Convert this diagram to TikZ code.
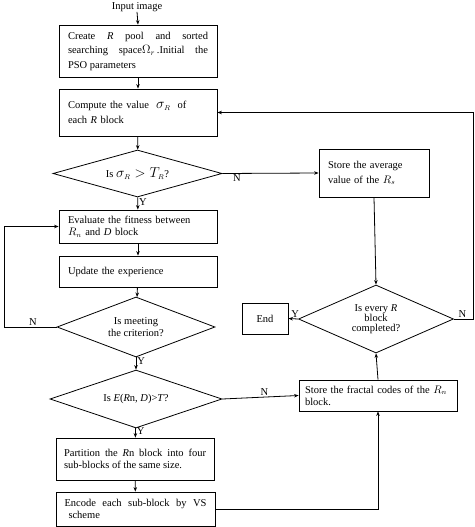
\documentclass[tikz,border=0pt]{standalone}
\usepackage{fontspec}
\setmainfont{Liberation Serif}
\usetikzlibrary{shapes.geometric,arrows.meta}
\begin{document}
\begin{tikzpicture}[x=1pt,y=-1pt,
  font=\fontsize{10.5}{12}\selectfont,
  box/.style={draw,line width=0.8pt,rectangle,inner sep=0pt},
  dia/.style={draw,line width=0.8pt,diamond,aspect=3,inner sep=0pt,align=center},
  conn/.style={line width=0.8pt,-{Stealth[length=4.5pt,width=3.5pt]}},
  lbl/.style={inner sep=1pt,font=\fontsize{10.5}{11}\selectfont}]
\useasboundingbox (0,0) rectangle (474,527);

\node[inner sep=0pt] (in) at (137,7) {Input image};
\node[box,minimum width=158pt,minimum height=52pt] (b1) at (138,51) {};
\node[text width=140pt,align=justify,font=\fontsize{10.5}{14.5}\selectfont] at (b1) {Create \textit{R} pool and sorted\linebreak searching space{\large$\Omega_r$}\,.Initial the\linebreak PSO parameters};
\node[box,minimum width=158pt,minimum height=47pt] (b2) at (138,112.5) {};
\node[text width=140pt,align=left] at (b2) {Compute the value \ {\Large$\sigma_{\scriptscriptstyle R}$} \ of\\[3pt] each \textit{R} block};
\node[dia,minimum width=169pt,minimum height=47pt] (d1) at (137.5,173.5) {Is {\Large$\sigma_{\scriptscriptstyle R} > T_{\scriptscriptstyle R}$}?};
\node[box,minimum width=158pt,minimum height=33pt] (b3) at (138,226.5) {};
\node[text width=140pt,align=left] at (b3) {Evaluate the fitness between\\ $R_n$ and \textit{D} block};
\node[box,minimum width=158pt,minimum height=31pt] (b4) at (138,271.5) {};
\node[text width=140pt,align=left] at (b4) {Update the experience};
\node[dia,minimum width=158pt,minimum height=60pt] (d2) at (136,327) {Is meeting\\the criterion?};
\node[dia,minimum width=172pt,minimum height=58pt] (d3) at (136,399) {Is \textit{E}(\textit{R}n, \textit{D})>\textit{T}?};
\node[box,minimum width=158pt,minimum height=42pt] (b5) at (135,459) {};
\node[text width=142pt,align=justify] at (b5) {Partition the \textit{R}n block into four\linebreak sub-blocks of the same size.};
\node[box,minimum width=159pt,minimum height=34pt] (b6) at (135.5,509) {};
\node[text width=142pt,align=justify] at (b6) {Encode each sub-block by VS\linebreak\hspace*{4pt}scheme};

\node[box,minimum width=110pt,minimum height=48pt] (sa) at (374,173) {};
\node[text width=92pt,align=left,font=\fontsize{10.5}{15}\selectfont] at (sa) {Store the average\\value of the $R_s$};
\node[dia,minimum width=155pt,minimum height=68pt,font=\fontsize{10.5}{9.5}\selectfont] (d4) at (376,319) {Is every \textit{R}\\block\\completed?};
\node[box,minimum width=46pt,minimum height=31pt] (end) at (265,318.5) {End};
\node[box,minimum width=158pt,minimum height=31pt] (fc) at (378,395.5) {};
\node[text width=146pt,align=left] at (fc) {Store the fractal codes of the $R_n$\\block.};

\coordinate (rt) at (473,319);
\coordinate (lt) at (4,327);
\coordinate (bt) at (378,509);

\draw[conn] (in.south) -- (b1.north);
\draw[conn] (b1) -- (b2);
\draw[conn] (b2) -- (d1);
\draw[conn] (d1) -- node[lbl,right,pos=0.4]{Y} (b3);
\draw[conn] (b3) -- (b4);
\draw[conn] (b4) -- (d2);
\draw[conn] (d2) -- node[lbl,right,pos=0.3]{Y} (d3);
\draw[conn] (d3) -- node[lbl,right,pos=0.35]{Y} (b5);
\draw[conn] (b5) -- (b6);
\draw[conn] (d1.east) -- node[lbl,below,pos=0.15]{N} (sa.west);
\draw[conn] (sa.south) -- (d4.north);
\draw[conn] (d4.west) -- node[lbl,above,pos=0.3]{Y} (end.east);
\draw[conn] (d4.east) -- node[lbl,above,pos=0.45]{N} (rt) |- (b2.east);
\draw[conn] (d2.west) -- node[lbl,above,pos=0.45]{N} (lt) |- (b3.west);
\draw[conn] (d3.east) -- node[lbl,above,pos=0.55]{N} (fc.west);
\draw[conn] (b6.east) -- (bt) -- (fc.south);
\draw[conn] (fc.north) -- (d4.south);
\end{tikzpicture}
\end{document}
